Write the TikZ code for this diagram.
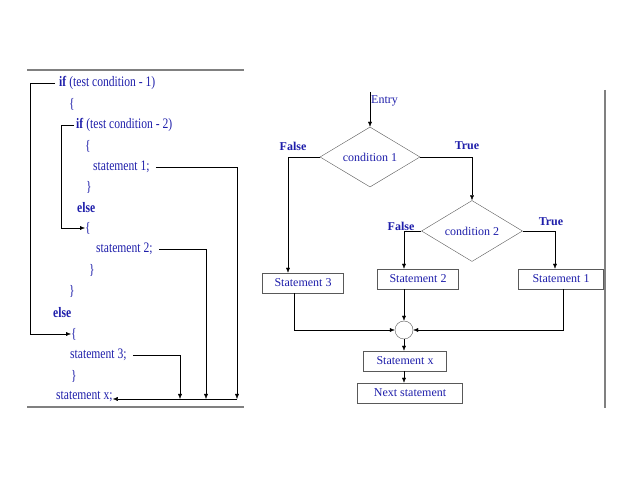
\documentclass[tikz,border=0pt]{standalone}
\usepackage{fontspec}
\setmainfont{Liberation Serif}
\newfontfamily\codefont[FakeStretch=0.8]{Liberation Serif}
\usetikzlibrary{shapes.geometric,arrows.meta}
\definecolor{navy}{RGB}{30,30,170}
\tikzstyle{code}=[anchor=west,inner sep=0pt,text=navy,font=\codefont\fontsize{14.5}{16}\selectfont]
\tikzstyle{kw}=[code,font=\codefont\fontsize{14.5}{16}\selectfont\bfseries]
\tikzstyle{box}=[draw=gray!70!black,rectangle,minimum height=20pt,text=navy,font=\fontsize{12}{14}\selectfont,inner xsep=2pt]
\tikzstyle{cond}=[draw=gray!70!black,diamond,aspect=1.67,text=navy,font=\fontsize{12}{14}\selectfont,inner sep=0pt]
\tikzstyle{lbl}=[text=navy,font=\fontsize{12}{14}\selectfont\bfseries]
\tikzstyle{arr}=[-{Latex[length=5pt,width=4pt]},thin]

\begin{document}
\begin{tikzpicture}[x=1pt,y=-1pt]
	\useasboundingbox (0,0) rectangle (638,478);
	% code panel
	\draw[gray,line width=1.2pt] (27,70) -- (244,70);
	\draw[gray,line width=1.2pt] (27,407) -- (244,407);
	\node[code] (if1) at (59,83) {\textbf{if} (test condition - 1)};
	\node[code] (ob1) at (69,104) {\{};
	\node[code] (if2) at (76,125) {\textbf{if} (test condition - 2)};
	\node[code] (ob2) at (85,146) {\{};
	\node[code] (st1) at (93,167) {statement 1;};
	\node[code] (cb2) at (86,187) {\}};
	\node[kw] (el2) at (77,208) {else};
	\node[code] (ob3) at (85,228) {\{};
	\node[code] (st2) at (96,249) {statement 2;};
	\node[code] (cb3) at (89,270) {\}};
	\node[code] (cb1) at (69,291) {\}};
	\node[kw] (el1) at (53,313) {else};
	\node[code] (ob4) at (71,334) {\{};
	\node[code] (st3) at (70,355) {statement 3;};
	\node[code] (cb4) at (71,376) {\}};
	\node[code] (stx) at (56,397) {statement x;};
	
	\coordinate (j3) at (180,399);
	\coordinate (j2) at (206,399);
	\coordinate (j1) at (237,399);
	\draw[arr] ([xshift=-4pt]if1.west) -- (30,83) |- (ob4.west);
	\draw[arr] ([xshift=-2pt]if2.west) -- (61,125) |- (ob3.west);
	\draw[arr] ([xshift=6pt]st1.east) -| (j1);
	\draw[arr] ([xshift=6pt]st2.east) -| (j2);
	\draw[arr] ([xshift=6pt]st3.east) -| (j3);
	\draw[arr] (j1) -- ([yshift=-2pt]stx.east);
	
	% flowchart
	\draw[gray,line width=1.2pt] (605,90) -- (605,408);
	\coordinate (entry) at (370,92);
	\node[text=navy,font=\fontsize{12}{14}\selectfont,anchor=west,inner sep=0pt] (entrylbl) at (371,101) {Entry};
	\node[cond,minimum width=100pt,minimum height=60pt] (c1) at (370,157) {condition 1};
	\node[cond,minimum width=101pt,minimum height=61pt] (c2) at (472,231) {condition 2};
	\node[box,minimum width=81pt] (s3) at (303,283) {Statement 3};
	\node[box,minimum width=81pt] (s2) at (418,279) {Statement 2};
	\node[box,minimum width=85pt] (s1) at (561,279) {Statement 1};
	\node[draw=gray!70!black,circle,minimum size=18pt,inner sep=0pt] (join) at (404,330) {};
	\node[box,minimum width=83pt] (sx) at (405,361) {Statement x};
	\node[box,minimum width=105pt] (next) at (410,393) {Next statement};
	\node[lbl] (f1) at (293,146) {False};
	\node[lbl] (t1) at (467,146) {True};
	\node[lbl] (f2) at (401,226) {False};
	\node[lbl] (t2) at (551,222) {True};
	
	\draw[arr] (entry) -- (c1.north);
	\draw[arr] (c1.west) -| (s3.north -| 288,0);
	\draw[arr] (c1.east) -| (c2.north);
	\draw[arr] (c2.west) -| (s2.north -| 404,0);
	\draw[arr] (c2.east) -| (s1.north -| 555,0);
	\draw[arr] (s2.south -| join) -- (join.north);
	\draw[arr] (s3.south -| 294,0) |- (join.west);
	\draw[arr] (s1.south -| 563,0) |- (join.east);
	\draw[arr] (join.south) -- (sx.north -| join);
	\draw[arr] (sx.south -| join) -- (next.north -| join);
\end{tikzpicture}
\end{document}
